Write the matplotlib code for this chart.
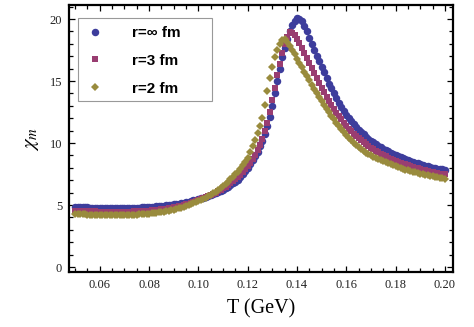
import numpy as np
import matplotlib
matplotlib.use("Agg")
import matplotlib.pyplot as plt
from matplotlib.ticker import MultipleLocator, FormatStrFormatter
from matplotlib.patches import Rectangle

# Temperature grid (GeV), 0.050 ... 0.200 in 0.001 steps
T = np.arange(50, 201) / 1000.0

chi_inf = [
    4.86, 4.85, 4.84, 4.83, 4.82, 4.81, 4.80, 4.79, 4.79, 4.78,
    4.78, 4.77, 4.77, 4.77, 4.76, 4.76, 4.76, 4.76, 4.76, 4.76,
    4.76, 4.77, 4.77, 4.78, 4.78, 4.79, 4.80, 4.81, 4.82, 4.83,
    4.84, 4.86, 4.87, 4.89, 4.91, 4.93, 4.95, 4.97, 5.00, 5.03,
    5.06, 5.09, 5.12, 5.16, 5.20, 5.24, 5.28, 5.33, 5.38, 5.43,
    5.48, 5.54, 5.60, 5.66, 5.73, 5.80, 5.88, 5.96, 6.05, 6.14,
    6.24, 6.35, 6.47, 6.60, 6.74, 6.88, 7.02, 7.25, 7.50, 7.75,
    8.00, 8.30, 8.60, 8.95, 9.30, 9.75, 10.20, 10.75, 11.35, 12.10,
    13.00, 14.00, 15.00, 16.00, 16.90, 17.70, 18.40, 19.00, 19.50, 19.85,
    20.05, 20.00, 19.80, 19.45, 19.00, 18.50, 18.00, 17.50, 17.05, 16.60,
    16.15, 15.70, 15.25, 14.80, 14.40, 14.00, 13.62, 13.26, 12.92, 12.60,
    12.30, 12.02, 11.76, 11.52, 11.30, 11.09, 10.89, 10.70, 10.52, 10.34,
    10.19, 10.05, 9.92, 9.79, 9.67, 9.55, 9.44, 9.33, 9.23, 9.13,
    9.04, 8.95, 8.86, 8.78, 8.70, 8.62, 8.55, 8.48, 8.41, 8.35,
    8.29, 8.23, 8.17, 8.12, 8.07, 8.02, 7.98, 7.94, 7.90, 7.87,
    7.84,
]

chi_r3 = [
    4.55, 4.54, 4.53, 4.52, 4.51, 4.50, 4.49, 4.48, 4.48, 4.47,
    4.47, 4.46, 4.46, 4.45, 4.45, 4.45, 4.45, 4.45, 4.45, 4.45,
    4.46, 4.46, 4.47, 4.47, 4.48, 4.49, 4.50, 4.51, 4.52, 4.54,
    4.55, 4.57, 4.59, 4.61, 4.63, 4.66, 4.69, 4.72, 4.75, 4.79,
    4.83, 4.87, 4.91, 4.96, 5.01, 5.06, 5.12, 5.18, 5.24, 5.31,
    5.38, 5.45, 5.53, 5.61, 5.70, 5.79, 5.89, 5.99, 6.10, 6.22,
    6.34, 6.47, 6.61, 6.76, 6.92, 7.08, 7.25, 7.45, 7.67, 7.90,
    8.15, 8.42, 8.72, 9.05, 9.42, 9.85, 10.35, 10.95, 11.65, 12.50,
    13.45, 14.45, 15.45, 16.40, 17.25, 17.95, 18.55, 18.95, 18.90, 18.70,
    18.40, 18.05, 17.65, 17.25, 16.85, 16.45, 16.05, 15.65, 15.25, 14.85,
    14.47, 14.10, 13.75, 13.40, 13.07, 12.75, 12.45, 12.17, 11.90, 11.64,
    11.40, 11.17, 10.95, 10.75, 10.56, 10.38, 10.21, 10.05, 9.90, 9.76,
    9.62, 9.49, 9.37, 9.25, 9.14, 9.03, 8.93, 8.83, 8.74, 8.65,
    8.57, 8.49, 8.41, 8.34, 8.27, 8.20, 8.13, 8.07, 8.01, 7.95,
    7.90, 7.85, 7.80, 7.75, 7.70, 7.66, 7.62, 7.58, 7.54, 7.51,
    7.48,
]

chi_r2 = [
    4.28, 4.27, 4.26, 4.25, 4.24, 4.23, 4.22, 4.21, 4.21, 4.20,
    4.20, 4.19, 4.19, 4.19, 4.18, 4.18, 4.18, 4.18, 4.19, 4.19,
    4.19, 4.20, 4.20, 4.21, 4.22, 4.23, 4.24, 4.25, 4.27, 4.28,
    4.30, 4.32, 4.34, 4.37, 4.40, 4.43, 4.46, 4.50, 4.54, 4.58,
    4.63, 4.68, 4.73, 4.79, 4.85, 4.91, 4.98, 5.05, 5.13, 5.21,
    5.30, 5.39, 5.49, 5.59, 5.70, 5.82, 5.95, 6.08, 6.22, 6.37,
    6.53, 6.70, 6.88, 7.07, 7.27, 7.48, 7.70, 7.94, 8.20, 8.48,
    8.80, 9.30, 9.75, 10.25, 10.80, 11.35, 12.00, 13.10, 14.20, 15.25,
    16.15, 16.90, 17.50, 17.95, 18.30, 18.35, 18.15, 17.85, 17.50, 17.15,
    16.80, 16.45, 16.10, 15.75, 15.40, 15.05, 14.70, 14.37, 14.05, 13.73,
    13.40, 13.08, 12.77, 12.47, 12.18, 11.90, 11.63, 11.37, 11.12, 10.88,
    10.65, 10.43, 10.22, 10.03, 9.85, 9.68, 9.52, 9.37, 9.23, 9.12,
    9.02, 8.91, 8.81, 8.71, 8.62, 8.53, 8.44, 8.36, 8.28, 8.20,
    8.13, 8.06, 7.99, 7.92, 7.86, 7.80, 7.74, 7.68, 7.63, 7.58,
    7.53, 7.48, 7.43, 7.39, 7.35, 7.31, 7.27, 7.23, 7.19, 7.15,
    7.12,
]

labels = ["r=\u221e fm", "r=3 fm", "r=2 fm"]
x_ticks = [0.06, 0.08, 0.10, 0.12, 0.14, 0.16, 0.18, 0.20]
y_ticks = [0, 5, 10, 15, 20]

assert len(chi_inf) == len(T) and len(chi_r3) == len(T) and len(chi_r2) == len(T)

plt.rcParams['mathtext.fontset'] = 'stix'

W, H = 474, 327
ax_l, ax_r, ax_t, ax_b = 69, 453, 5, 272
fig = plt.figure(figsize=(W/100, H/100), dpi=100)
ax = fig.add_axes([ax_l/W, 1 - ax_b/H, (ax_r-ax_l)/W, (ax_b-ax_t)/H])

c_blue = '#3D3D9C'
c_purple = '#993D71'
c_olive = '#998B3D'

ax.plot(T, chi_inf, 'o', color=c_blue, ms=5.4, mew=0, label=labels[0])
ax.plot(T, chi_r3, 's', color=c_purple, ms=3.7, mew=0, label=labels[1])
ax.plot(T, chi_r2, 'D', color=c_olive, ms=4.4, mew=0, label=labels[2])

ax.set_xlim(0.0475, 0.2033)
ax.set_ylim(-0.4, 21.13)
ax.set_xticks(x_ticks)
ax.set_yticks(y_ticks)
ax.xaxis.set_minor_locator(MultipleLocator(0.005))
ax.yaxis.set_minor_locator(MultipleLocator(1))
ax.xaxis.set_major_formatter(FormatStrFormatter('%.2f'))

for s in ax.spines.values():
    s.set_linewidth(1.6)
ax.tick_params(which='both', direction='in', top=True, right=True, width=0.9)
ax.tick_params(which='major', length=4.5, pad=5)
ax.tick_params(which='minor', length=2.6)
for lab in ax.get_xticklabels() + ax.get_yticklabels():
    lab.set_fontfamily('Liberation Serif')
    lab.set_fontsize(9)
    lab.set_color('#222222')

ax.set_xlabel('T (GeV)', fontfamily='Liberation Serif', fontsize=14.5, labelpad=6)
ax.set_ylabel(r'$\chi_m$', fontsize=15, labelpad=6)

# legend box (frame drawn separately to match the wide reference box)
def ax_frac(px, py):
    return (px - ax_l) / (ax_r - ax_l), (ax_b - py) / (ax_b - ax_t)

x0, y1 = ax_frac(78, 18)
x1, y0 = ax_frac(212, 101)
ax.add_patch(Rectangle((x0, y0), x1 - x0, y1 - y0, transform=ax.transAxes,
                       facecolor='white', edgecolor='#999999', lw=0.8, zorder=4))

lx, ly = ax_frac(83, 21.5)
leg = ax.legend(loc='upper left', bbox_to_anchor=(lx, ly), numpoints=1,
                prop={'family': 'Liberation Sans', 'weight': 'bold', 'size': 11},
                frameon=False, handlelength=1.0, handletextpad=1.9,
                labelspacing=0.9, borderpad=0.3, borderaxespad=0.0)
leg.set_zorder(5)

fig.savefig('out.png', dpi=100)
